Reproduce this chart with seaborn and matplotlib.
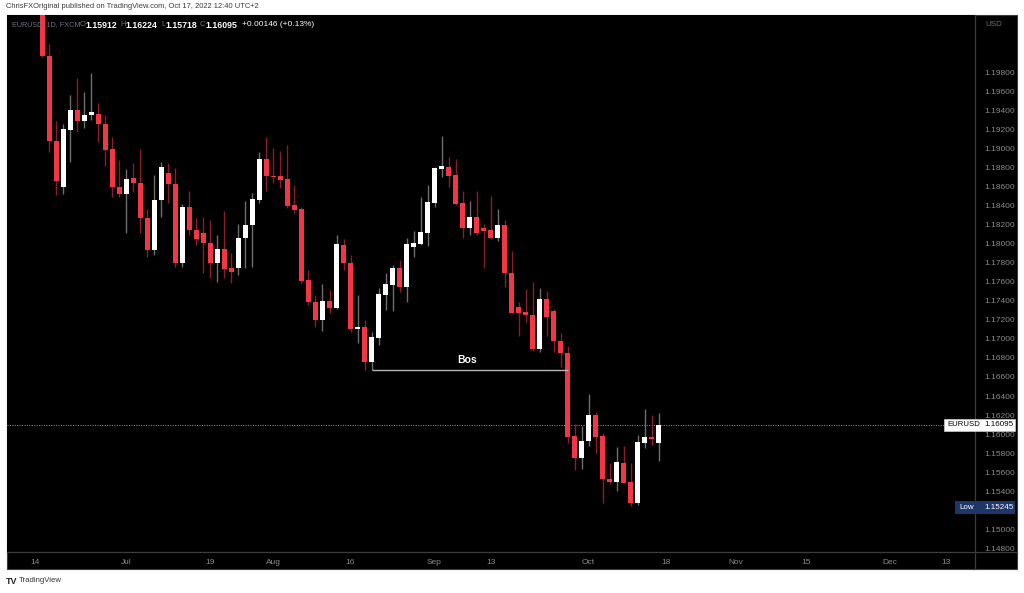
import numpy as np
import pandas as pd
import matplotlib
matplotlib.use("Agg")
import matplotlib.pyplot as plt
import seaborn as sns
from matplotlib.patches import Rectangle

# EURUSD daily candles, 15 Jun 2022 - 17 Oct 2022
opens = [1.2060, 1.19972, 1.1908, 1.1859, 1.19195, 1.19402, 1.1929, 1.19349, 1.1936, 1.19252,
         1.18989, 1.18597, 1.18517, 1.18691, 1.18632, 1.18271, 1.17932, 1.18454, 1.1874, 1.18625,
         1.17792, 1.18383, 1.18142, 1.18107, 1.18002, 1.17792, 1.17939, 1.1774, 1.1774, 1.18055,
         1.18194, 1.18457, 1.18884, 1.18709, 1.18709, 1.18674, 1.18401, 1.18359, 1.17617, 1.17389,
         1.17197, 1.17396, 1.1732, 1.17984, 1.17799, 1.17106, 1.1712, 1.16759, 1.17011, 1.17459,
         1.17564, 1.17743, 1.1754, 1.17967, 1.17995, 1.18114, 1.18422, 1.18779, 1.188, 1.18719,
         1.18428, 1.1816, 1.18275, 1.1816, 1.18142, 1.18055, 1.18194, 1.17687, 1.1733, 1.17278,
         1.17249, 1.16892, 1.17414, 1.17291, 1.16979, 1.16854, 1.15979, 1.15751, 1.15927, 1.16196,
         1.15979, 1.15527, 1.15493, 1.15699, 1.15493, 1.15279, 1.1591, 1.15972, 1.15912]
highs = [1.2072, 1.2009, 1.19286, 1.19258, 1.19559, 1.19735, 1.19594, 1.19787, 1.19472, 1.19349,
         1.19122, 1.18877, 1.18779, 1.18842, 1.18989, 1.18359, 1.18719, 1.18859, 1.18842, 1.1879,
         1.18412, 1.18551, 1.18265, 1.18282, 1.18247, 1.18089, 1.18341, 1.17897, 1.18202, 1.1845,
         1.18534, 1.18964, 1.19122, 1.19006, 1.18972, 1.19034, 1.18614, 1.18387, 1.17722, 1.17459,
         1.17575, 1.17512, 1.18089, 1.18044, 1.17879, 1.17459, 1.17197, 1.17074, 1.1753, 1.17687,
         1.17774, 1.17827, 1.18061, 1.18131, 1.18492, 1.18614, 1.18807, 1.19129, 1.18905, 1.18887,
         1.18551, 1.18446, 1.18551, 1.18202, 1.18499, 1.18359, 1.18247, 1.17925, 1.17391, 1.17522,
         1.17593, 1.1753, 1.17505, 1.17312, 1.17057, 1.16924, 1.16105, 1.16084, 1.1642, 1.16234,
         1.16007, 1.157, 1.15867, 1.15874, 1.15699, 1.15989, 1.16259, 1.16199, 1.16224]
lows = [1.1996, 1.18964, 1.18509, 1.18517, 1.18859, 1.19174, 1.19216, 1.193, 1.19063, 1.18817,
        1.18492, 1.18492, 1.18107, 1.18544, 1.18107, 1.17862, 1.17879, 1.18282, 1.18422, 1.17757,
        1.17757, 1.18089, 1.17984, 1.17687, 1.17635, 1.17599, 1.17635, 1.17582, 1.17669, 1.1774,
        1.17757, 1.18422, 1.18555, 1.18632, 1.1858, 1.1837, 1.18317, 1.17582, 1.17354, 1.17127,
        1.17085, 1.17267, 1.1731, 1.17722, 1.17074, 1.16959, 1.16672, 1.16672, 1.16934, 1.17302,
        1.17291, 1.17494, 1.17383, 1.17862, 1.17984, 1.17974, 1.18387, 1.18702, 1.18597, 1.18404,
        1.18055, 1.18089, 1.18089, 1.1774, 1.18044, 1.1803, 1.17547, 1.1727, 1.17029, 1.17179,
        1.16872, 1.16864, 1.17029, 1.16867, 1.16707, 1.15902, 1.15622, 1.15629, 1.15877, 1.15804,
        1.15279, 1.15472, 1.15405, 1.15483, 1.15245, 1.15255, 1.1585, 1.15884, 1.15718]
closes = [1.19972, 1.1908, 1.1866, 1.19199, 1.19402, 1.19286, 1.19349, 1.19381, 1.19252, 1.18982,
          1.18597, 1.18517, 1.18677, 1.18632, 1.18271, 1.17932, 1.18457, 1.18803, 1.18625, 1.17792,
          1.18383, 1.18142, 1.18044, 1.18002, 1.17792, 1.17939, 1.17732, 1.17698, 1.18061, 1.182,
          1.18464, 1.18884, 1.18709, 1.18698, 1.18667, 1.18394, 1.18352, 1.1761, 1.17383, 1.17197,
          1.17396, 1.1732, 1.17992, 1.17792, 1.17102, 1.1712, 1.16759, 1.17022, 1.1747, 1.17575,
          1.17743, 1.1754, 1.17995, 1.18002, 1.18118, 1.18433, 1.1879, 1.18817, 1.18712, 1.18415,
          1.1816, 1.18275, 1.18114, 1.18135, 1.18055, 1.18194, 1.17687, 1.17274, 1.17274, 1.17249,
          1.16892, 1.17414, 1.17225, 1.16976, 1.16847, 1.15972, 1.15751, 1.1593, 1.16196, 1.15972,
          1.15524, 1.15493, 1.15709, 1.15483, 1.15279, 1.15913, 1.15972, 1.15951, 1.16095]

candle_start, candle_end = "2022-06-15", "2022-10-17"
tick_dates = ["2022-06-14", "2022-07-01", "2022-07-19", "2022-08-01", "2022-08-16", "2022-09-01",
              "2022-09-13", "2022-10-03", "2022-10-18", "2022-11-01", "2022-11-15", "2022-12-01",
              "2022-12-13"]
tick_labels = ["14", "Jul", "19", "Aug", "16", "Sep", "13", "Oct", "18", "Nov", "15", "Dec", "13"]

bos_level = 1.16672
bos_from, bos_to = "2022-08-19", "2022-09-28"
last_price = 1.16095
low_price = 1.15245

# trading-day axis (weekends compressed like TradingView)
days = pd.bdate_range("2022-06-14", "2022-12-30")
pos = {d: i for i, d in enumerate(days)}
cdates = pd.bdate_range(candle_start, candle_end)
df = pd.DataFrame({"x": [pos[d] for d in cdates], "open": opens, "high": highs,
                   "low": lows, "close": closes})

sns.set_theme(style="dark", rc={"axes.facecolor": "black", "figure.facecolor": "white"})
plt.rcParams["font.family"] = ["Liberation Sans", "DejaVu Sans"]

W, H = 1024, 593
fig = plt.figure(figsize=(W / 100, H / 100), dpi=100)

def fx(p):
    return p / W

def fy(p):
    return 1 - p / H

edge = "#3c3c3c"
fig.patches.append(Rectangle((fx(7), fy(569)), fx(1017 - 7), (569 - 15) / H,
                             transform=fig.transFigure, facecolor="black",
                             edgecolor=edge, lw=0.8, zorder=-10))

ax = fig.add_axes([fx(7), fy(552), fx(975 - 7), (552 - 15) / H])
ax.set_facecolor("black")

RED, WHITE = "#f23645", "#ffffff"
for r in df.itertuples():
    up = r.close >= r.open
    ax.vlines(r.x, r.low, r.high, color="#6e6e6e" if up else "#8c1d28", lw=1.0, zorder=2)
    lo, hi = min(r.open, r.close), max(r.open, r.close)
    ax.bar(r.x, max(hi - lo, 0.00008), bottom=lo, width=0.72,
           color=WHITE if up else RED, lw=0, zorder=3)

# Bos line
ax.hlines(bos_level, pos[pd.Timestamp(bos_from)], pos[pd.Timestamp(bos_to)],
          color="#b5b5b5", lw=1.0, zorder=4)
ax.text((pos[pd.Timestamp(bos_from)] + pos[pd.Timestamp(bos_to)]) / 2 - 0.3, bos_level + 0.0005,
        "Bos", color="white", fontsize=7.5, fontweight="bold", ha="center", va="bottom")

# last price dotted line
ax.axhline(last_price, color="#9a9a9a", lw=0.7, ls=(0, (1, 1.5)), zorder=1)

ax.set_xlim(-4.04, 134.15)
ax.set_ylim(1.14763, 1.20399)

yt = np.arange(1.148, 1.1981, 0.002)
ax.yaxis.tick_right()
ax.set_yticks(yt)
# 1.15200 sits under the "Low" tag
ax.set_yticklabels(["" if abs(v - 1.152) < 1e-6 else f"{v:.5f}" for v in yt])
ax.set_xticks([pos[pd.Timestamp(d)] for d in tick_dates])
ax.set_xticklabels(tick_labels)
ax.tick_params(axis="y", length=0, pad=7, labelsize=6, labelcolor="#8b8b8b")
ax.tick_params(axis="x", length=0, pad=5, labelsize=6, labelcolor="#8b8b8b")
ax.grid(False)
for s in ["top", "left"]:
    ax.spines[s].set_visible(False)
for s in ["right", "bottom"]:
    ax.spines[s].set_color(edge)
    ax.spines[s].set_linewidth(0.9)
ax.set_xlabel("")
ax.set_ylabel("")

# right-side axis extensions of border lines
fig.add_artist(plt.Line2D([fx(975), fx(975)], [fy(552), fy(569)], color=edge, lw=0.9))
fig.add_artist(plt.Line2D([fx(975), fx(1017)], [fy(552), fy(552)], color=edge, lw=0.9))

# header texts
fig.text(fx(6), fy(7), "ChrisFXOriginal published on TradingView.com, Oct 17, 2022 12:40 UTC+2",
         fontsize=5.4, color="#3a3a3a", va="center")
gray = "#6f7280"
head = [(12, "EURUSD, 1D, FXCM", gray, "normal", 5.2),
        (80, "O", gray, "normal", 5.6), (85, "1.15912", "white", "bold", 6.3),
        (120, "H", gray, "normal", 5.6), (125, "1.16224", "white", "bold", 6.3),
        (161, "L", gray, "normal", 5.6), (165, "1.15718", "white", "bold", 6.3),
        (200, "C", gray, "normal", 5.6), (205, "1.16095", "white", "bold", 6.3),
        (242, "+0.00146 (+0.13%)", "white", "normal", 6.0)]
for xpix, t, c, w, s in head:
    fig.text(fx(xpix), fy(25), t, fontsize=s, color=c, fontweight=w, va="center", zorder=1)

fig.text(fx(985), fy(25), "USD", fontsize=5.8, color="#6f6f6f", va="center")

# last price tag
fig.patches.append(Rectangle((fx(944), fy(431)), fx(1015 - 944), 12 / H,
                             transform=fig.transFigure, facecolor="white",
                             edgecolor="#cccccc", lw=0.5, zorder=5))
fig.text(fx(947), fy(425), "EURUSD", fontsize=5.6, color="black", va="center", zorder=6)
fig.text(fx(984), fy(425), f"{last_price:.5f}", fontsize=5.8, color="black", va="center", zorder=6)

# low tag
fig.patches.append(Rectangle((fx(955), fy(514)), fx(1015 - 955), 13 / H,
                             transform=fig.transFigure, facecolor="#1e3769",
                             edgecolor="none", zorder=5))
fig.text(fx(959), fy(507.5), "Low", fontsize=5.8, color="white", va="center", zorder=6)
fig.text(fx(984), fy(507.5), f"{low_price:.5f}", fontsize=5.8, color="white", va="center", zorder=6)

# footer logo
fig.text(fx(6), fy(581), "TV", fontsize=6.5, color="#222222", fontweight="bold", va="center")
fig.text(fx(19), fy(581), "TradingView", fontsize=5.6, color="#333333", va="center")

fig.savefig("out.png", dpi=100, facecolor="white")
